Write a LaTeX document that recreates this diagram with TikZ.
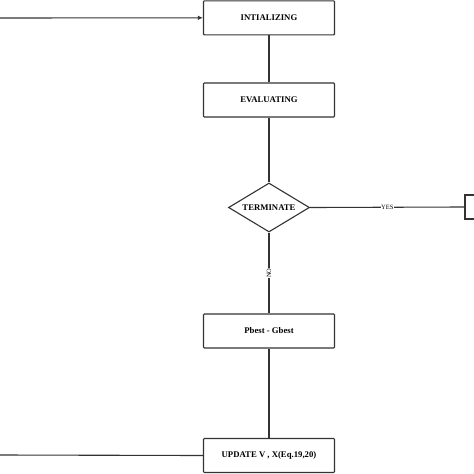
\documentclass[tikz,border=0pt]{standalone}
\usepackage{fontspec}
\setmainfont{Liberation Serif}
\usetikzlibrary{shapes.geometric,arrows.meta}
\definecolor{ink}{HTML}{333333}
\tikzset{
  procbox/.style={draw=ink, line width=1.1pt, minimum width=131pt, minimum height=34pt, inner sep=0pt,
    font=\fontsize{8.7}{9}\selectfont\bfseries, text=black, rounded corners=0.8pt},
  decbox/.style={draw=ink, line width=1.1pt, diamond, minimum width=81pt, minimum height=49pt, inner sep=0pt},
  conn/.style={draw=ink, line width=1.1pt},
  edgelbl/.style={fill=white, inner sep=0.4pt, font=\fontsize{6.5}{7}\selectfont, text=black},
}
\begin{document}
\begin{tikzpicture}[x=1pt,y=-1pt]
\useasboundingbox (0,0) rectangle (474,474);
\clip (0,0) rectangle (474,474);
\fill[white] (0,0) rectangle (474,474);
\node[procbox] (init) at (269,17.8) {INTIALIZING};
\node[procbox] (eval) at (269,100) {EVALUATING};
\node[decbox] (term) at (269,207.5) {};
\node[font=\fontsize{8.7}{9}\selectfont\bfseries] (termtxt) at (term.center) {TERMINATE};
\node[procbox] (pg) at (269,331) {Pbest - Gbest};
\node[procbox] (upd) at (269,455.5) {UPDATE V , X(Eq.19,20)};
\node[draw=ink, line width=1.1pt, minimum width=30pt, minimum height=24pt, inner sep=0pt] (stop) at (480,207) {};
\coordinate (inL) at (0,18);
\coordinate (backL) at (0,455);
\draw[conn, -{Latex[length=5pt,width=4.5pt]}] (inL) -- (init.west);
\draw[conn] (init.south) -- (eval.north);
\draw[conn] (eval.south) -- (term.north);
\draw[conn] (term.east) -- node[edgelbl] {YES} (stop.west);
\draw[conn] (term.south) -- node[edgelbl, rotate=90] {NO} (pg.north);
\draw[conn] (pg.south) -- (upd.north);
\draw[conn] (upd.west) -- (backL);
\end{tikzpicture}
\end{document}
